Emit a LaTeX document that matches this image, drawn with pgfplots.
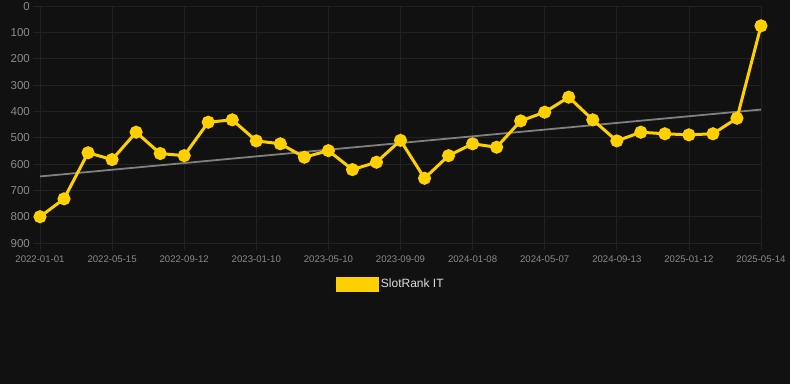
\documentclass[border=0pt]{standalone}
\usepackage{pgfplots}
\pgfplotsset{compat=1.18}
\usepackage{fontspec}
\setmainfont{Liberation Sans}
\definecolor{bg}{HTML}{111111}
\definecolor{gridc}{HTML}{222222}
\definecolor{gold}{HTML}{FFD000}
\definecolor{tickc}{HTML}{8A8A8A}
\definecolor{trendc}{HTML}{808080}
\definecolor{legc}{HTML}{DDDDDD}
\pgfplotstableread{
x y
0 800
1 732
2 557
3 583
4 479
5 560
6 568
7 441
8 432
9 512
10 523
11 574
12 549
13 621
14 593
15 510
16 654
17 568
18 523
19 536
20 436
21 403
22 346
23 432
24 512
25 479
26 485
27 489
28 485
29 426
30 75
}\rankdata
\pgfplotstableread{
x y
0 647
30 393
}\trenddata
\begin{document}
\begin{tikzpicture}
\fill[bg] (0,0) rectangle (790pt,384pt);
\begin{axis}[
  at={(40pt,141pt)}, anchor=south west,
  scale only axis, width=721pt, height=237pt,
  xmin=0, xmax=30, ymin=0, ymax=900, y dir=reverse,
  clip=false,
  xtick={0,3,...,30},
  xticklabels={2022-01-01,2022-05-15,2022-09-12,2023-01-10,2023-05-10,2023-09-09,2024-01-08,2024-05-07,2024-09-13,2025-01-12,2025-05-14},
  ytick={0,100,...,900},
  xtick pos=left, ytick pos=left,
  grid=major, grid style={gridc, line width=0.8pt},
  axis line style={draw=none},
  tick style={gridc, line width=0.8pt},
  major tick style={gridc},
  tick align=outside, major tick length=7pt,
  /pgf/number format/assume math mode=true,
  xticklabel style={font=\fontsize{9.6}{11}\selectfont, text=tickc, inner sep=2pt, yshift=-3.5pt},
  yticklabel style={font=\fontsize{11.5}{13}\selectfont, text=tickc, inner sep=2pt, xshift=-1pt},
  legend style={at={(0.4865,-0.173)}, anchor=center, draw=none, fill=none,
    text=legc, font=\fontsize{12}{14}\selectfont, inner sep=0pt,
    /tikz/every even column/.append style={column sep=4pt}},
]
\addplot[trendc, line width=1.8pt, no marks, forget plot] table[x=x,y=y] {\trenddata};
\addplot[gold, line width=3pt, mark=*, mark size=5pt, mark options={solid, fill=gold, draw=none},
  legend image code/.code={\fill[gold] (0pt,-6pt) rectangle (40pt,6pt);}]
  table[x=x,y=y] {\rankdata};
\addlegendentry{SlotRank IT}
\end{axis}
\end{tikzpicture}
\end{document}
